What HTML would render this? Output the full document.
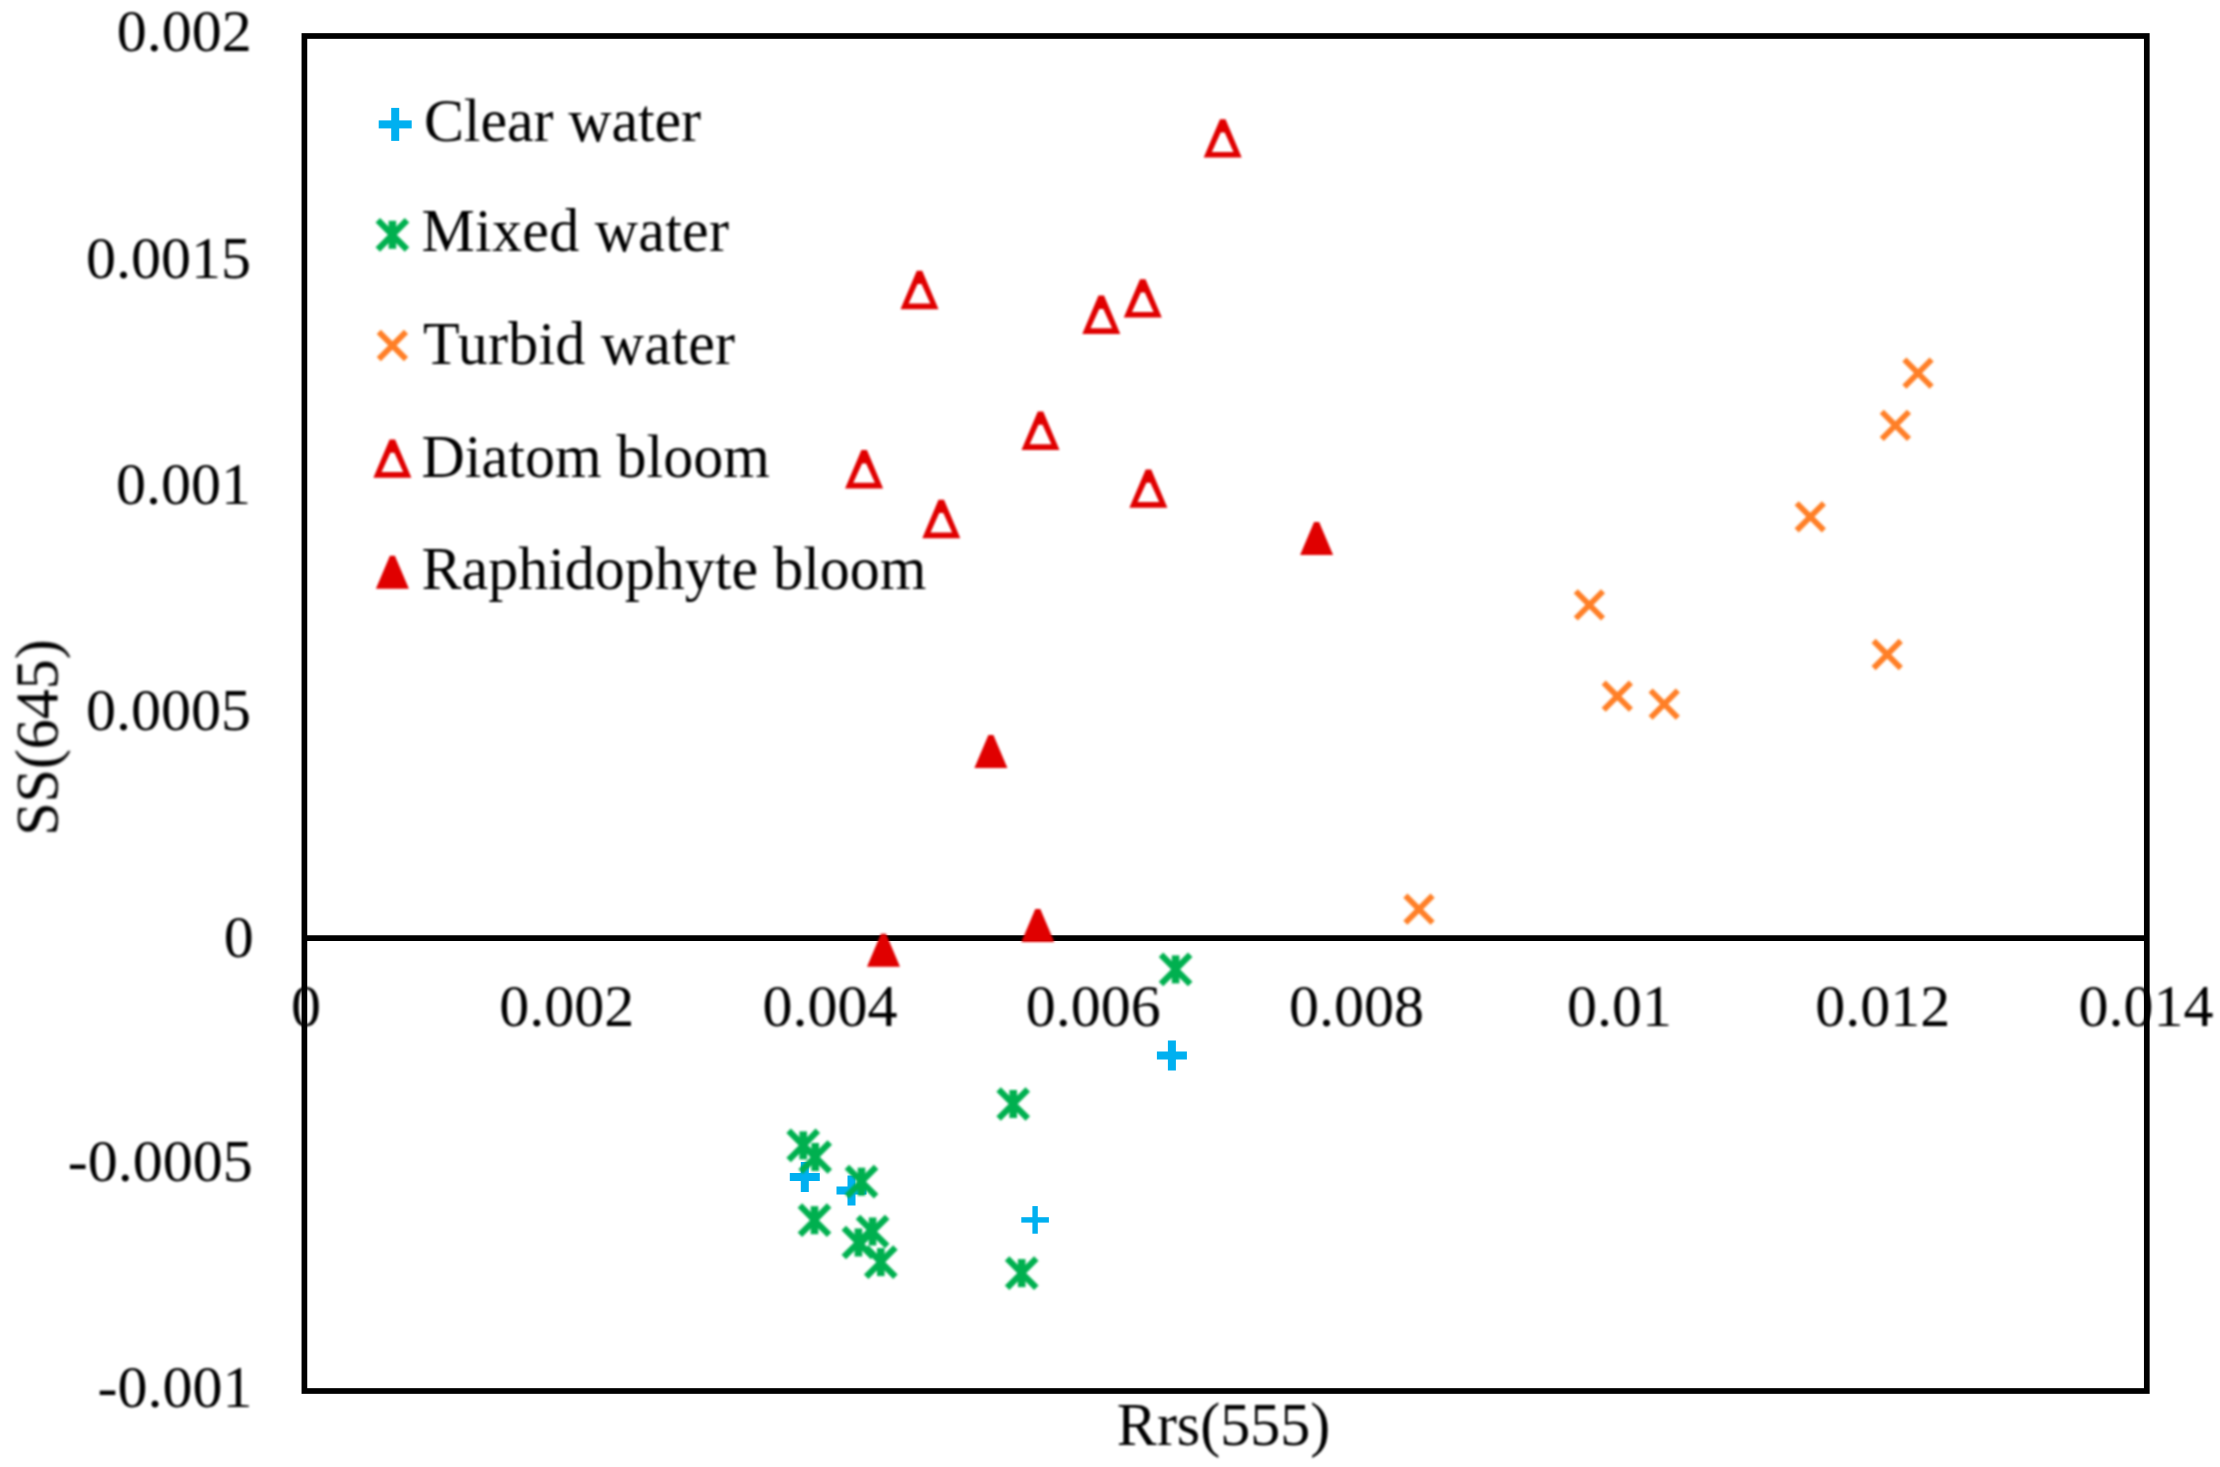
<!DOCTYPE html>
<html lang="en"><head><meta charset="utf-8"><title>SS(645) vs Rrs(555)</title>
<style>html,body{margin:0;padding:0;background:#fff;overflow:hidden}svg{display:block}text{font-family:"Liberation Serif","Times New Roman",serif;font-size:60px;fill:#000}</style>
</head><body>
<svg width="2220" height="1467" viewBox="0 0 2220 1467">
<defs>
<filter id="soft" x="0" y="0" width="2220" height="1467" filterUnits="userSpaceOnUse"><feGaussianBlur stdDeviation="0.8"/></filter>
<filter id="crisp" x="0" y="0" width="2220" height="1467" filterUnits="userSpaceOnUse"><feGaussianBlur stdDeviation="0.35"/></filter>
</defs>
<rect width="2220" height="1467" fill="#fff"/>
<g id="labels" filter="url(#soft)">
<text x="251.8" y="50.9" text-anchor="end">0.002</text>
<text x="251" y="277.8" text-anchor="end">0.0015</text>
<text x="251" y="504.2" text-anchor="end">0.001</text>
<text x="251" y="730.1" text-anchor="end">0.0005</text>
<text x="253.8" y="957.1" text-anchor="end">0</text>
<text x="252.8" y="1180.7" text-anchor="end">-0.0005</text>
<text x="252.6" y="1406.7" text-anchor="end">-0.001</text>
<text x="305.9" y="1025.7" text-anchor="middle">0</text>
<text x="566.8" y="1025.7" text-anchor="middle">0.002</text>
<text x="830.0" y="1025.7" text-anchor="middle">0.004</text>
<text x="1093.2" y="1025.7" text-anchor="middle">0.006</text>
<text x="1356.4" y="1025.7" text-anchor="middle">0.008</text>
<text x="1619.6" y="1025.7" text-anchor="middle">0.01</text>
<text x="1882.8" y="1025.7" text-anchor="middle">0.012</text>
<text x="2146.0" y="1025.7" text-anchor="middle">0.014</text>
<text transform="translate(1223.5,1445.0) scale(1,1.035)" text-anchor="middle">Rrs(555)</text>
<text transform="translate(57.4,737.5) rotate(-90) scale(1,1.035)" text-anchor="middle">SS(645)</text>
<text transform="translate(424.0,140.8) scale(1,1.035)" textLength="277" lengthAdjust="spacing">Clear water</text>
<text transform="translate(421.5,250.8) scale(1,1.035)" textLength="307.5" lengthAdjust="spacing">Mixed water</text>
<text transform="translate(423.0,364.2) scale(1,1.035)" textLength="312" lengthAdjust="spacing">Turbid water</text>
<text transform="translate(421.5,477.0) scale(1,1.035)" textLength="348.5" lengthAdjust="spacing">Diatom bloom</text>
<text transform="translate(421.5,588.6) scale(1,1.035)" textLength="505" lengthAdjust="spacing">Raphidophyte bloom</text>
</g>
<g id="frame" filter="url(#crisp)">
<rect x="304.4" y="36.0" width="1842.4" height="1355.0" fill="none" stroke="#000" stroke-width="5.7"/>
<line x1="304.4" y1="938.2" x2="2146.8" y2="938.2" stroke="#000" stroke-width="5.7"/>
<g id="clear"><rect x="1156.9" y="1051.5" width="30" height="8" fill="#00B0F0"/><rect x="1167.9" y="1040.5" width="8" height="30" fill="#00B0F0"/><rect x="789.8" y="1173.0" width="30" height="8" fill="#00B0F0"/><rect x="800.8" y="1162.0" width="8" height="30" fill="#00B0F0"/><rect x="836.5" y="1186.5" width="30" height="8" fill="#00B0F0"/><rect x="847.5" y="1175.5" width="8" height="30" fill="#00B0F0"/><rect x="1021.3" y="1217.2" width="27.6" height="5.4" fill="#00B0F0"/><rect x="1032.4" y="1206.1" width="5.4" height="27.6" fill="#00B0F0"/></g>
<rect x="378.7" y="120.4" width="33" height="8" fill="#00B0F0"/><rect x="391.2" y="107.9" width="8" height="33" fill="#00B0F0"/>
</g>
<g id="markers" filter="url(#soft)">
<g id="mixed"><path d="M1161.0 954.8L1190.2 984.0M1161.0 984.0L1190.2 954.8" stroke="#00B050" stroke-width="6.3" fill="none"/><rect x="1171.8" y="955.4" width="7.6" height="28" fill="#00B050"/><path d="M998.6 1089.4L1027.8 1118.6M998.6 1118.6L1027.8 1089.4" stroke="#00B050" stroke-width="6.3" fill="none"/><rect x="1009.4" y="1090.0" width="7.6" height="28" fill="#00B050"/><path d="M788.6 1130.8L817.8 1160.0M788.6 1160.0L817.8 1130.8" stroke="#00B050" stroke-width="6.3" fill="none"/><rect x="799.4" y="1131.4" width="7.6" height="28" fill="#00B050"/><path d="M800.6 1142.4L829.8 1171.6M800.6 1171.6L829.8 1142.4" stroke="#00B050" stroke-width="6.3" fill="none"/><rect x="811.4" y="1143.0" width="7.6" height="28" fill="#00B050"/><path d="M846.9 1167.1L876.1 1196.3M846.9 1196.3L876.1 1167.1" stroke="#00B050" stroke-width="6.3" fill="none"/><rect x="857.7" y="1167.7" width="7.6" height="28" fill="#00B050"/><path d="M799.9 1205.6L829.1 1234.8M799.9 1234.8L829.1 1205.6" stroke="#00B050" stroke-width="6.3" fill="none"/><rect x="810.7" y="1206.2" width="7.6" height="28" fill="#00B050"/><path d="M858.0 1216.9L887.2 1246.1M858.0 1246.1L887.2 1216.9" stroke="#00B050" stroke-width="6.3" fill="none"/><rect x="868.8" y="1217.5" width="7.6" height="28" fill="#00B050"/><path d="M843.8 1227.9L873.0 1257.1M843.8 1257.1L873.0 1227.9" stroke="#00B050" stroke-width="6.3" fill="none"/><rect x="854.6" y="1228.5" width="7.6" height="28" fill="#00B050"/><path d="M866.2 1247.5L895.4 1276.7M866.2 1276.7L895.4 1247.5" stroke="#00B050" stroke-width="6.3" fill="none"/><rect x="877.0" y="1248.1" width="7.6" height="28" fill="#00B050"/><path d="M1007.1 1258.5L1036.3 1287.7M1007.1 1287.7L1036.3 1258.5" stroke="#00B050" stroke-width="6.3" fill="none"/><rect x="1017.9" y="1259.1" width="7.6" height="28" fill="#00B050"/></g>
<g id="turbid"><path d="M1904.4 359.5L1931.6 386.7M1904.4 386.7L1931.6 359.5" stroke="#FF7F27" stroke-width="5.8" fill="none"/><path d="M1881.8 411.8L1909.0 439.0M1881.8 439.0L1909.0 411.8" stroke="#FF7F27" stroke-width="5.8" fill="none"/><path d="M1796.7 503.2L1823.9 530.4M1796.7 530.4L1823.9 503.2" stroke="#FF7F27" stroke-width="5.8" fill="none"/><path d="M1575.8 591.3L1603.0 618.5M1575.8 618.5L1603.0 591.3" stroke="#FF7F27" stroke-width="5.8" fill="none"/><path d="M1873.6 640.9L1900.8 668.1M1873.6 668.1L1900.8 640.9" stroke="#FF7F27" stroke-width="5.8" fill="none"/><path d="M1603.7 682.6L1630.9 709.8M1603.7 709.8L1630.9 682.6" stroke="#FF7F27" stroke-width="5.8" fill="none"/><path d="M1650.6 690.5L1677.8 717.7M1650.6 717.7L1677.8 690.5" stroke="#FF7F27" stroke-width="5.8" fill="none"/><path d="M1405.4 895.6L1432.6 922.8M1405.4 922.8L1432.6 895.6" stroke="#FF7F27" stroke-width="5.8" fill="none"/></g>
<g id="diatom"><path fill="#E00000" fill-rule="evenodd" d="M1220.0 119.2L1225.5 119.2L1241.7 157.6L1203.7 157.6ZM1220.7 132.5L1224.7 132.5L1233.5 151.9L1211.9 151.9Z"/><path fill="#E00000" fill-rule="evenodd" d="M916.8 270.8L922.2 270.8L938.5 309.2L900.5 309.2ZM917.5 284.1L921.5 284.1L930.3 303.5L908.7 303.5Z"/><path fill="#E00000" fill-rule="evenodd" d="M1098.5 295.6L1104.0 295.6L1120.3 334.0L1082.3 334.0ZM1099.3 308.9L1103.3 308.9L1112.1 328.3L1090.5 328.3Z"/><path fill="#E00000" fill-rule="evenodd" d="M1140.0 279.2L1145.5 279.2L1161.8 317.6L1123.8 317.6ZM1140.8 292.5L1144.8 292.5L1153.6 311.9L1132.0 311.9Z"/><path fill="#E00000" fill-rule="evenodd" d="M1037.8 411.5L1043.2 411.5L1059.5 449.9L1021.5 449.9ZM1038.5 424.8L1042.5 424.8L1051.3 444.2L1029.7 444.2Z"/><path fill="#E00000" fill-rule="evenodd" d="M861.4 450.1L866.9 450.1L883.1 488.5L845.1 488.5ZM862.1 463.4L866.1 463.4L874.9 482.8L853.3 482.8Z"/><path fill="#E00000" fill-rule="evenodd" d="M938.5 499.8L944.0 499.8L960.3 538.2L922.3 538.2ZM939.3 513.1L943.3 513.1L952.1 532.5L930.5 532.5Z"/><path fill="#E00000" fill-rule="evenodd" d="M1145.7 469.4L1151.2 469.4L1167.4 507.8L1129.4 507.8ZM1146.4 482.7L1150.4 482.7L1159.2 502.1L1137.6 502.1Z"/></g>
<g id="raphi"><polygon fill="#E00000" points="1314.1,522.0 1319.1,522.0 1333.1,555.0 1300.1,555.0"/><polygon fill="#E00000" points="988.4,734.9 993.4,734.9 1007.4,767.9 974.4,767.9"/><polygon fill="#E00000" points="1035.3,908.9 1040.3,908.9 1054.3,941.9 1021.3,941.9"/><polygon fill="#E00000" points="881.0,933.7 886.0,933.7 900.0,966.7 867.0,966.7"/></g>
<g id="legend">
<path d="M377.8 220.2L407.0 249.4M377.8 249.4L407.0 220.2" stroke="#00B050" stroke-width="6.3" fill="none"/><rect x="388.6" y="220.8" width="7.6" height="28" fill="#00B050"/>
<path d="M378.8 331.9L406.0 359.1M378.8 359.1L406.0 331.9" stroke="#FF7F27" stroke-width="5.8" fill="none"/>
<path fill="#E00000" fill-rule="evenodd" d="M389.6 439.4L395.1 439.4L411.4 477.8L373.4 477.8ZM390.4 452.7L394.4 452.7L403.2 472.1L381.6 472.1Z"/>
<polygon fill="#E00000" points="389.9,555.7 394.9,555.7 408.9,588.7 375.9,588.7"/>
</g>
</g>
</svg>
</body></html>
